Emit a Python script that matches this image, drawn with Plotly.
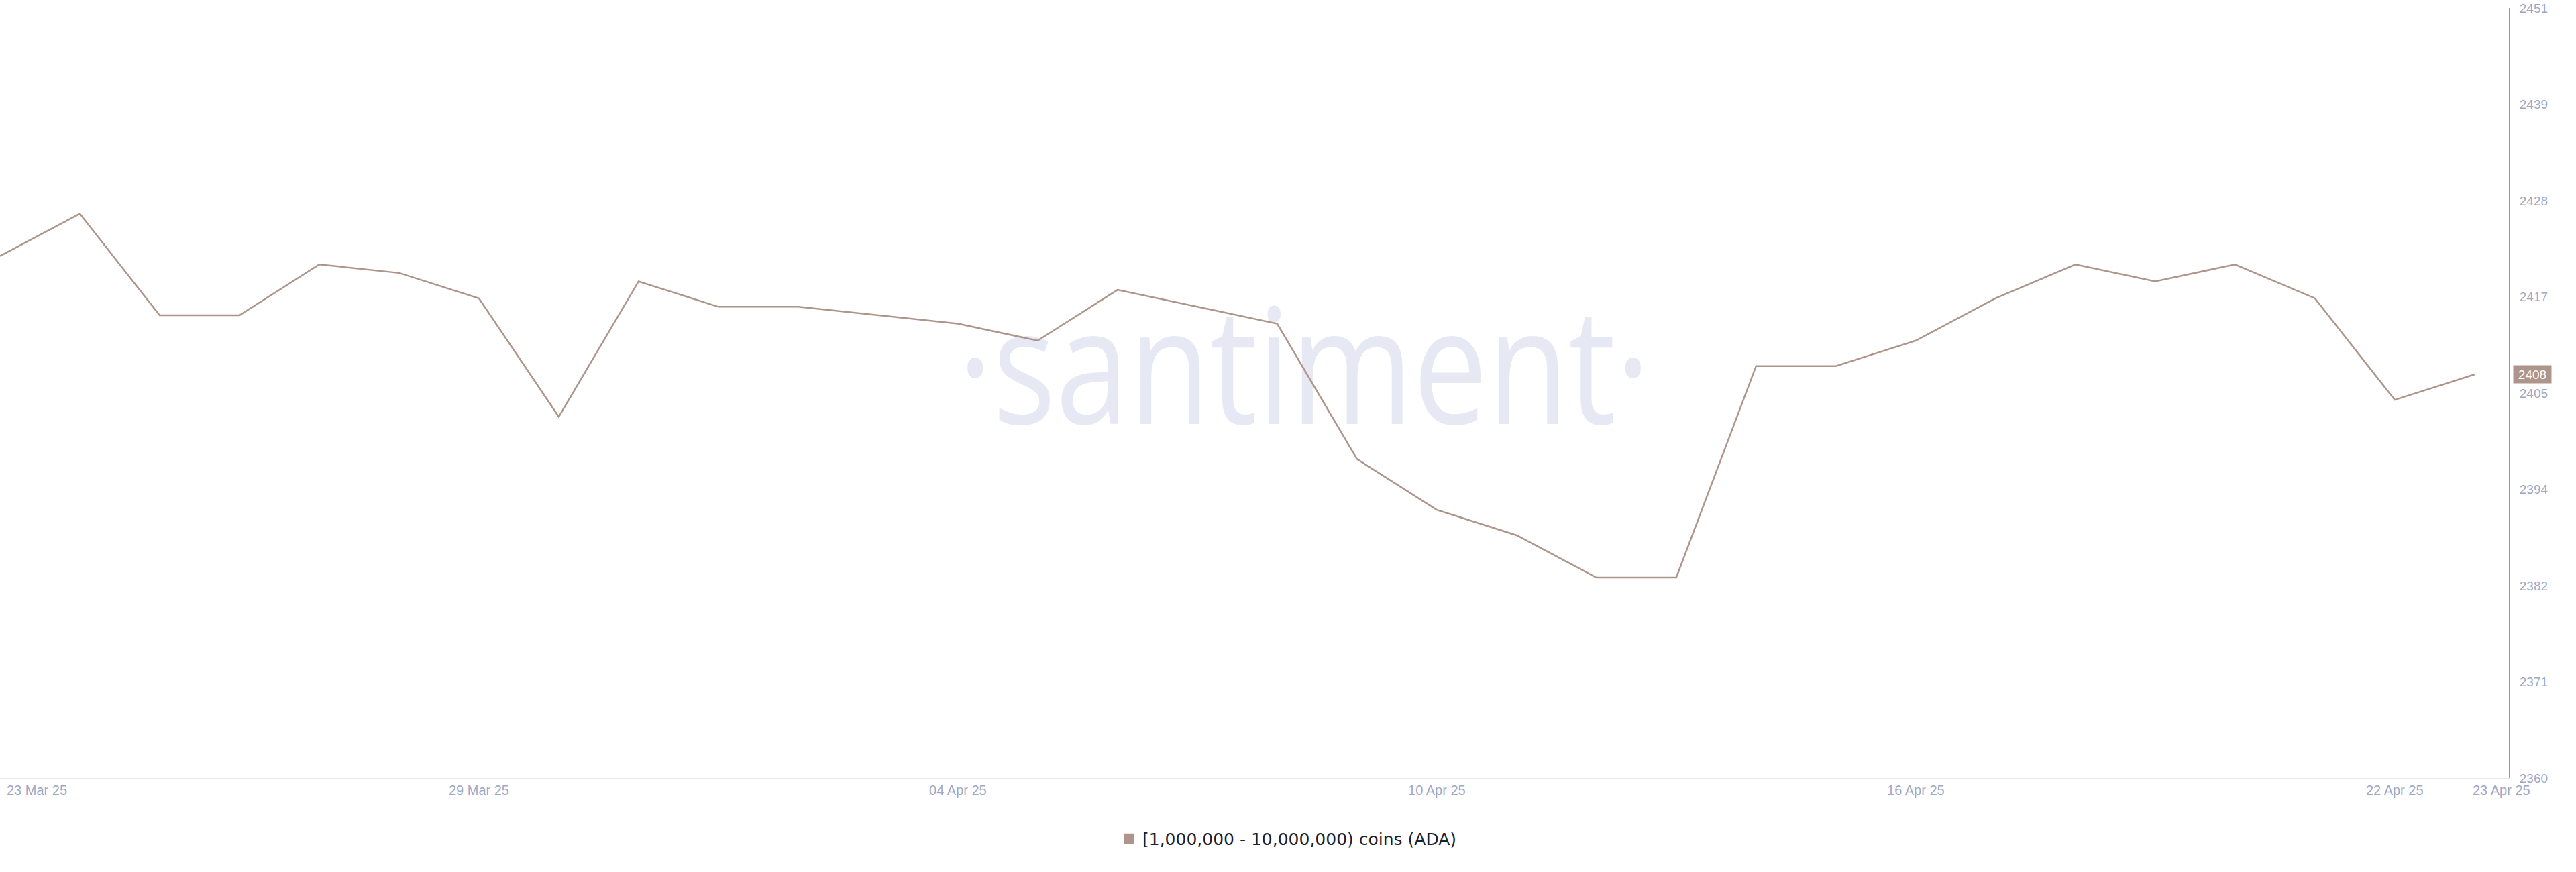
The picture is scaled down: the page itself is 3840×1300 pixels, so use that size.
import numpy as np
import pandas as pd
import plotly.graph_objects as go

# ---- data ----
start_date = "2025-03-23"
holders = [2422, 2427, 2415, 2415, 2421, 2420, 2417, 2403, 2419, 2416,
           2416, 2415, 2414, 2412, 2418, 2416, 2414, 2398, 2392, 2389,
           2384, 2384, 2409, 2409, 2412, 2417, 2421, 2419, 2421, 2417,
           2405, 2408]
series_name = "[1,000,000 - 10,000,000) coins (ADA)"

x_tick_dates = ["2025-03-29", "2025-04-04", "2025-04-10", "2025-04-16", "2025-04-22"]
x_tick_text = ["29 Mar 25", "04 Apr 25", "10 Apr 25", "16 Apr 25", "22 Apr 25"]
edge_dates = ["2025-03-23", "2025-04-23"]
edge_text = ["23 Mar 25", "23 Apr 25"]

y_tick_text = ["2360", "2371", "2382", "2394", "2405", "2417", "2428", "2439", "2451"]
y_range = [2360.3, 2451.3]
x_range = ["2025-03-23 00:00", "2025-04-23 10:20"]

watermark = "·santiment·"

# ---- styles ----
line_color = "#ad958b"
tick_color = "#a0a8c3"
tick_font = "Liberation Sans, Arial, sans-serif"

dates = pd.date_range(start_date, periods=len(holders), freq="D")

x0 = pd.Timestamp(x_range[0])
x1 = pd.Timestamp(x_range[1])
wm_x = x0 + (x1 - x0) * 0.5198
wm_y = y_range[0] + (y_range[1] - y_range[0]) * 0.512

fig = go.Figure()

# watermark (drawn first, below the line)
fig.add_trace(go.Scatter(
    x=[wm_x], y=[wm_y], mode="text", text=[watermark],
    textposition="middle center",
    textfont=dict(family="Open Sans, sans-serif", size=241, color="#e6e9f3"),
    hoverinfo="skip", showlegend=False,
))

fig.add_trace(go.Scatter(
    x=dates, y=holders, mode="lines",
    line=dict(color=line_color, width=2.5),
    name=series_name, showlegend=False,
))

# legend entry with square swatch
fig.add_trace(go.Scatter(
    x=[None], y=[None], mode="markers",
    marker=dict(symbol="square", size=18, color=line_color),
    name=series_name, showlegend=True,
))

tickvals_y = np.linspace(y_range[0], y_range[1], len(y_tick_text))

fig.update_layout(
    width=3840, height=1300,
    paper_bgcolor="white", plot_bgcolor="white",
    margin=dict(l=0, r=100, t=12, b=140, autoexpand=False),
    xaxis=dict(
        type="date", range=x_range,
        tickvals=pd.to_datetime(x_tick_dates), ticktext=x_tick_text,
        showgrid=False, zeroline=False,
        showline=True, linecolor="#e7e9f3", linewidth=2,
        ticks="", ticklabelstandoff=-1,
        tickfont=dict(family=tick_font, size=20, color=tick_color),
    ),
    yaxis=dict(
        side="right", range=y_range,
        tickvals=tickvals_y, ticktext=y_tick_text,
        showgrid=False, zeroline=False,
        showline=True, linecolor=line_color, linewidth=2,
        ticks="", ticklabelstandoff=10,
        tickfont=dict(family=tick_font, size=19, color=tick_color),
    ),
    legend=dict(
        orientation="h", xref="container", yref="container",
        x=0.5, xanchor="center", y=0.0377, yanchor="middle",
        font=dict(family="DejaVu Sans, sans-serif", size=25, color="#1c1f2e"),
        bgcolor="rgba(0,0,0,0)",
    ),
    showlegend=True,
)

# edge date labels
fig.add_annotation(
    x=pd.Timestamp(edge_dates[0]), xref="x", y=0, yref="paper",
    text=edge_text[0], showarrow=False, xanchor="left", yanchor="top",
    xshift=8, yshift=-5,
    font=dict(family=tick_font, size=20, color=tick_color),
)
fig.add_annotation(
    x=pd.Timestamp(edge_dates[1]), xref="x", y=0, yref="paper",
    text=edge_text[1], showarrow=False, xanchor="center", yanchor="top",
    xshift=40, yshift=-5,
    font=dict(family=tick_font, size=20, color=tick_color),
)

# last value badge
fig.add_annotation(
    x=1, xref="paper", y=holders[-1], yref="y",
    text=str(holders[-1]), showarrow=False, xanchor="left", yanchor="middle",
    xshift=6, width=56, height=26, borderpad=0,
    bgcolor=line_color,
    font=dict(family=tick_font, size=19, color="white"),
)

# remove default page margin and condense the watermark lettering
post_js = """
document.body.style.margin = '0';
var gd = document.getElementById('{plot_id}');
gd.querySelectorAll('.textpoint text').forEach(function(t) {
  if (t.textContent.indexOf('santiment') >= 0) {
    var cx = parseFloat(t.getAttribute('x')) || 0;
    t.setAttribute('transform', 'translate(' + cx + ',0) scale(0.818,1) translate(' + (-cx) + ',0)');
  }
});
"""

fig.write_html("out.html", post_script=post_js, config={"displayModeBar": False})
